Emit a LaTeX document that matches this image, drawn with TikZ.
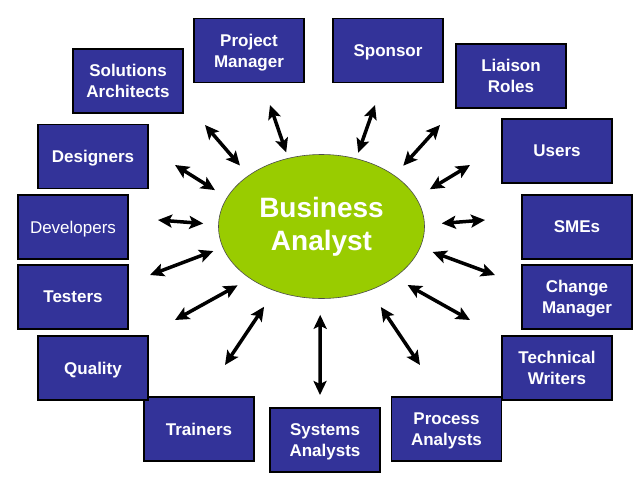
\documentclass[tikz,border=0pt]{standalone}
\usepackage{fontspec}
\setmainfont{Liberation Sans}
\usetikzlibrary{shapes.geometric,arrows.meta}
\definecolor{roleblue}{HTML}{333399}
\definecolor{bagreen}{HTML}{99CC00}

\begin{document}
\begin{tikzpicture}[x=1pt,y=-1pt,
	role/.style={draw=black,line width=1.8pt,fill=roleblue,text=white,minimum width=110pt,minimum height=64pt,inner sep=0pt,text depth=0pt,align=center,font=\fontsize{17}{21}\selectfont\bfseries},
	hub/.style={ellipse,draw=black!70,line width=0.6pt,fill=bagreen,text=white,minimum width=206pt,minimum height=144pt,inner sep=0pt,align=center,font=\fontsize{28}{33}\selectfont\bfseries},
	link/.style={line width=3.5pt,{Stealth[length=14pt,width=13pt,inset=3pt]}-{Stealth[length=14pt,width=13pt,inset=3pt]}}]
	\useasboundingbox (0,0) rectangle (640,480);
	\node[hub] (ba) at (321.5,226.5) {Business\\Analyst};
	% roles, clockwise from the top
	\node[role] (pm) at (249,50.5) {Project\\Manager};
	\node[role] (spo) at (388,50.5) {Sponsor};
	\node[role] (lia) at (511,76) {Liaison\\Roles};
	\node[role] (usr) at (557,151) {Users};
	\node[role] (sme) at (577,227) {SMEs};
	\node[role] (chm) at (577,297) {Change\\Manager};
	\node[role] (tw) at (557,368) {Technical\\Writers};
	\node[role] (pa) at (446.5,429) {Process\\Analysts};
	\node[role] (sys) at (325,440) {Systems\\Analysts};
	\node[role] (tr) at (199,429) {Trainers};
	\node[role] (qa) at (93,368) {Quality};
	\node[role] (tst) at (73,297) {Testers};
	\node[role,font=\fontsize{17}{21}\selectfont] (dev) at (73,227) {Developers};
	\node[role] (des) at (93,156.5) {Designers};
	\node[role] (sa) at (128,81) {Solutions\\Architects};
	% outer arrow tips
	\coordinate (pmt) at (270,105);
	\coordinate (spot) at (375,105);
	\coordinate (liat) at (440,125);
	\coordinate (usrt) at (470,165);
	\coordinate (smet) at (485,220);
	\coordinate (chmt) at (495,275);
	\coordinate (twt) at (470,320);
	\coordinate (pat) at (420,365);
	\coordinate (syst) at (320,395);
	\coordinate (trt) at (225,365);
	\coordinate (qat) at (175,320);
	\coordinate (tstt) at (150,275);
	\coordinate (devt) at (158,220);
	\coordinate (dest) at (175,165);
	\coordinate (sat) at (205,125);
	\foreach \a/\t/\s in {116/pmt/6,63/spot/6,35/liat/13,17/usrt/16,1/smet/17,348/chmt/13,325/twt/15,307/pat/20,269/syst/16,234/trt/19,216/qat/14,192/tstt/10,179/devt/15,163/dest/14,145/sat/13}
		\draw[link,shorten <=\s pt] (ba.\a) -- (\t);
\end{tikzpicture}
\end{document}
